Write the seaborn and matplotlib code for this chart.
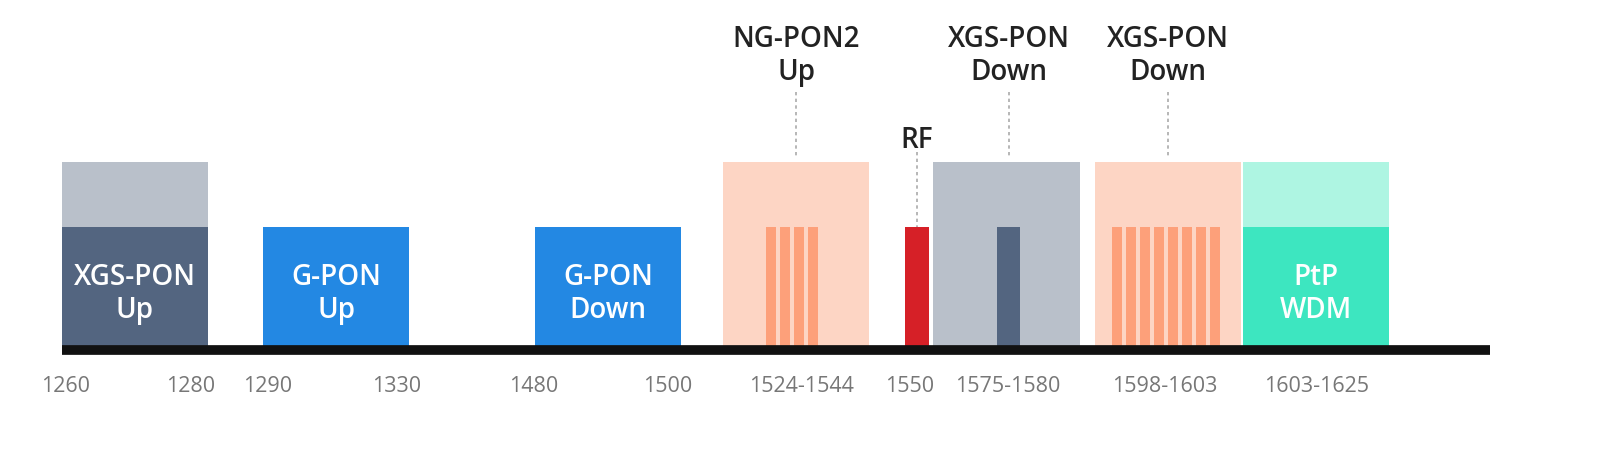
import matplotlib
matplotlib.use("Agg")
import matplotlib.pyplot as plt
import seaborn as sns

sns.set_theme(style="white")
plt.rcParams["font.family"] = ["Open Sans", "DejaVu Sans"]

# --- data: pixel-scale diagram of PON wavelength bands ---
band_left = [62, 263, 535, 723, 905, 933, 1095, 1243]
band_width = [146, 146, 146, 146, 24, 147, 146, 146]
band_base = ["#536580", "#2388e3", "#2388e3", "#fdd5c4", "#d62027", "#b9c0ca", "#fdd5c4", "#3de6c0"]
band_top = ["#b9c0ca", None, None, "#fdd5c4", None, "#b9c0ca", "#fdd5c4", "#aef5e2"]
inner_labels = ["XGS-PON\nUp", "G-PON\nUp", "G-PON\nDown", "", "", "", "", "PtP\nWDM"]

stripe_x = [766, 780, 794, 808, 1112, 1126, 1140, 1154, 1168, 1182, 1196, 1210]
stripe_w = 10
dark_bar_x = [997]
dark_bar_w = 23

tick_pos = [66, 191, 268, 397, 534, 668, 801, 910, 1008, 1165, 1317]
tick_labels = ["1260", "1280", "1290", "1330", "1480", "1500", "1524-1544", "1550",
               "1575-1580", "1598-1603", "1603-1625"]

callout_x = [796, 917, 1009, 1168]
callout_text = ["NG-PON2\nUp", "RF", "XGS-PON\nDown", "XGS-PON\nDown"]
callout_top = [92, 152, 92, 92]
callout_bottom = [158, 227, 158, 158]
callout_label_y = [56, 141, 56, 56]

BASE_TOP, BASE_BOTTOM, HIGH_TOP = 227, 346, 162

fig, ax = plt.subplots(figsize=(16, 4.49), dpi=100)
fig.subplots_adjust(0, 0, 1, 1)
ax.set_xlim(0, 1600)
ax.set_ylim(449, 0)
ax.axis("off")

for x, w, cb, ct, lab in zip(band_left, band_width, band_base, band_top, inner_labels):
    if ct:
        ax.bar(x, BASE_TOP - HIGH_TOP, width=w, bottom=HIGH_TOP, align="edge", color=ct, lw=0)
    ax.bar(x, BASE_BOTTOM - BASE_TOP, width=w, bottom=BASE_TOP, align="edge", color=cb, lw=0)
    if lab:
        ax.text(x + w / 2, 294, lab, ha="center", va="center", color="white",
                fontsize=20, fontweight="semibold", linespacing=1.15)

for x in stripe_x:
    ax.bar(x, BASE_BOTTOM - BASE_TOP, width=stripe_w, bottom=BASE_TOP, align="edge",
           color="#fda07a", lw=0)
for x in dark_bar_x:
    ax.bar(x, BASE_BOTTOM - BASE_TOP, width=dark_bar_w, bottom=BASE_TOP, align="edge",
           color="#536580", lw=0)

# baseline
ax.plot([62, 1490], [350, 350], color="#111111", lw=7, solid_capstyle="butt")

for x, lab in zip(tick_pos, tick_labels):
    ax.text(x, 387, lab, ha="center", va="center", color="#777777", fontsize=15.5)

for x, t, y0, y1, ly in zip(callout_x, callout_text, callout_top, callout_bottom, callout_label_y):
    ax.plot([x, x], [y0, y1], color="#aaaaaa", lw=1.2, ls=(0, (2, 2)))
    ax.text(x, ly, t, ha="center", va="center", color="#222222",
            fontsize=20, fontweight="semibold", linespacing=1.15)

fig.savefig("out.png", dpi=100)
